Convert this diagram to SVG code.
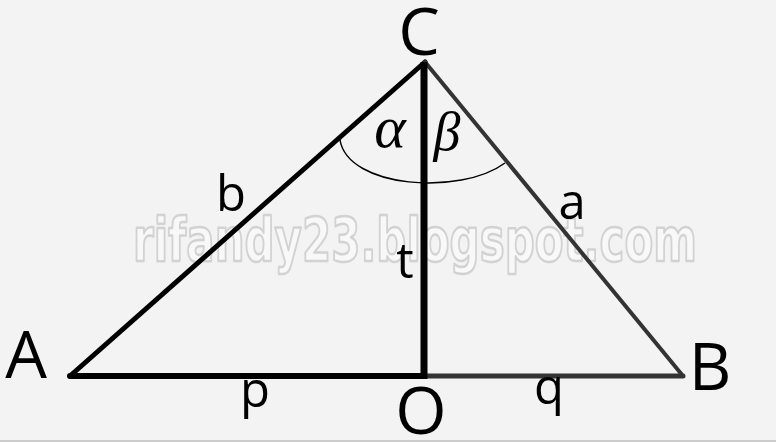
<svg xmlns="http://www.w3.org/2000/svg" width="776" height="442" viewBox="0 0 776 442">
<style>
.cap{font-family:"Open Sans","Liberation Sans",sans-serif;font-size:66px;fill:#000;text-anchor:middle}
.low{font-family:"Open Sans","Liberation Sans",sans-serif;font-size:49px;fill:#000;text-anchor:middle}
.greek{font-family:"Liberation Serif","DejaVu Serif",serif;font-style:italic;fill:#000;text-anchor:middle}
.wm{font-family:"DejaVu Sans","Liberation Sans",sans-serif;font-weight:bold;font-size:60px;fill:#f8f8f8;stroke:#d2d2d2;stroke-width:2.5;stroke-linejoin:round}
.blk{stroke:#000;fill:none;stroke-linecap:round}
.gry{stroke:#333;fill:none;stroke-linecap:round}
</style>
<rect width="776" height="442" fill="#f3f3f3"/>
<line x1="0" y1="441" x2="776" y2="441" stroke="#cccccc" stroke-width="2"/>
<text class="wm" x="133" y="261" textLength="564" lengthAdjust="spacingAndGlyphs">rifandy23.blogspot.com</text>
<g id="connectors">
<line class="blk" x1="70" y1="376" x2="425" y2="62" stroke-width="5"/>
<line class="gry" x1="425" y1="62" x2="683" y2="376" stroke-width="4"/>
<line class="blk" x1="70" y1="376" x2="424" y2="376" stroke-width="6"/>
<line class="gry" x1="424" y1="376" x2="683" y2="376" stroke-width="5"/>
<line stroke="#000" x1="424" y1="62" x2="424" y2="379" stroke-width="7"/>
<path d="M340,140 C348,188 460,196 505,163" fill="none" stroke="#000" stroke-width="1.5"/>
</g>
<g id="C"><text class="cap" x="419" y="55" font-size="60">C</text></g>
<g id="A"><text class="cap" x="26" y="378">A</text></g>
<g id="B"><text class="cap" x="710" y="390">B</text></g>
<g id="O"><text class="cap" x="421" y="434" font-size="64">O</text></g>
<g id="p"><text class="low" x="255" y="407">p</text></g>
<g id="q"><text class="low" x="549" y="404">q</text></g>
<g id="t"><text class="low" x="405" y="278">t</text></g>
<g id="b"><text class="low" x="231" y="211">b</text></g>
<g id="a"><text class="low" x="572" y="219">a</text></g>
<g id="alpha"><text class="greek" x="390" y="147" font-size="60">α</text></g>
<g id="beta"><text class="greek" x="447" y="150" font-size="54">β</text></g>
</svg>
